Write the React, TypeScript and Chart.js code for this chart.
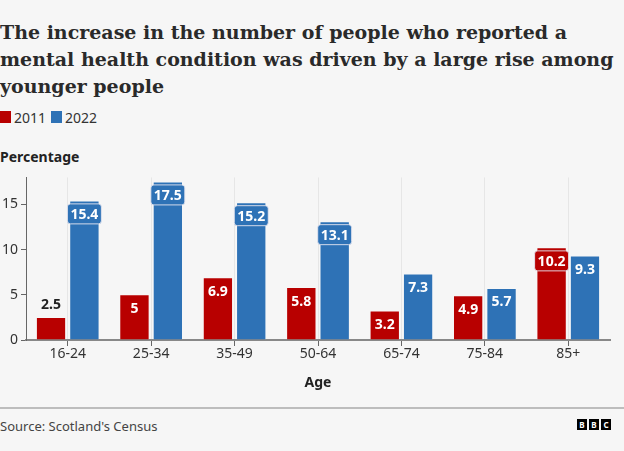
import React, { useEffect, useRef } from "react";
import { Chart, registerables } from "chart.js";

Chart.register(...registerables);

const categories = ["16-24", "25-34", "35-49", "50-64", "65-74", "75-84", "85+"];
const values2011 = [2.5, 5, 6.9, 5.8, 3.2, 4.9, 10.2];
const values2022 = [15.4, 17.5, 15.2, 13.1, 7.3, 5.7, 9.3];
const seriesNames = ["2011", "2022"];
const yTicks = [0, 5, 10, 15];

const RED = "#b80000";
const BLUE = "#2e72b6";
const FONT = "'Noto Sans', 'Open Sans', sans-serif";
const TITLE_FONT = "'DejaVu Serif', serif";

const labelPlugin = {
  id: "barLabels",
  afterDatasetsDraw(chart: any) {
    const ctx = chart.ctx;
    ctx.save();
    ctx.font = `bold 14px ${FONT}`;
    ctx.textAlign = "center";
    ctx.textBaseline = "middle";
    chart.data.datasets.forEach((ds: any, di: number) => {
      const meta = chart.getDatasetMeta(di);
      meta.data.forEach((bar: any, i: number) => {
        const v = ds.data[i];
        const text = String(v);
        const w = ctx.measureText(text).width;
        const barW = bar.width;
        const barH = bar.base - bar.y;
        if (barH < 24) {
          ctx.fillStyle = "#222";
          ctx.fillText(text, bar.x, bar.y - 12);
          return;
        }
        const cy = bar.y + 13;
        if (w > barW - 3) {
          const bw = w + 6;
          const bh = 20;
          ctx.beginPath();
          (ctx as any).roundRect(bar.x - bw / 2, cy - bh / 2, bw, bh, 3);
          ctx.fillStyle = ds.backgroundColor;
          ctx.fill();
          ctx.strokeStyle = "rgba(230,230,240,0.9)";
          ctx.lineWidth = 1;
          ctx.stroke();
        }
        ctx.fillStyle = "#ffffff";
        ctx.fillText(text, bar.x, cy + 1);
      });
    });
    ctx.restore();
  },
};

export default function App() {
  const ref = useRef<HTMLCanvasElement>(null);
  useEffect(() => {
    document.body.style.margin = "0";
    document.body.style.background = "#f6f6f6";
    const chart = new Chart(ref.current!, {
      type: "bar",
      data: {
        labels: categories,
        datasets: [
          {
            label: seriesNames[0],
            data: values2011,
            backgroundColor: RED,
            borderColor: "rgba(255,255,255,0.6)",
            borderWidth: 0.5,
            categoryPercentage: 0.8,
            barPercentage: 0.88,
          },
          {
            label: seriesNames[1],
            data: values2022,
            backgroundColor: BLUE,
            borderColor: "rgba(255,255,255,0.6)",
            borderWidth: 0.5,
            categoryPercentage: 0.8,
            barPercentage: 0.88,
          },
        ],
      },
      options: {
        animation: false,
        responsive: false,
        maintainAspectRatio: false,
        layout: { padding: { top: 3, right: 14, left: 0, bottom: 10 } },
        plugins: {
          legend: { display: false },
          tooltip: { enabled: false },
        },
        scales: {
          x: {
            grid: {
              display: true,
              drawOnChartArea: true,
              color: "#e6e6e6",
              tickColor: "#666",
              tickLength: 6,
              offset: false,
            },
            border: { color: "#888", width: 2 },
            ticks: {
              color: "#333",
              font: { family: FONT, size: 14 },
              padding: 0,
            },
            title: {
              display: true,
              text: "Age",
              color: "#222",
              font: { family: FONT, size: 14, weight: "bold" },
              padding: { top: 10, bottom: 0 },
            },
            afterFit: (s: any) => {
              s.height = 51;
            },
          },
          y: {
            min: 0,
            max: 18,
            afterBuildTicks: (s: any) => {
              s.ticks = yTicks.map((v) => ({ value: v }));
            },
            grid: {
              display: true,
              drawOnChartArea: false,
              color: "#666",
              tickLength: 5,
            },
            border: { color: "#666", width: 1 },
            ticks: {
              color: "#333",
              font: { family: FONT, size: 14 },
              padding: 3,
            },
            afterFit: (s: any) => {
              s.width = 26;
            },
          },
        },
      },
      plugins: [labelPlugin],
    });
    return () => chart.destroy();
  }, []);

  return (
    <div
      style={{
        position: "relative",
        width: 624,
        height: 451,
        background: "#f6f6f6",
        fontFamily: FONT,
        overflow: "hidden",
      }}
    >
      <div
        style={{
          position: "absolute",
          left: 0,
          top: 19,
          fontFamily: TITLE_FONT,
          fontSize: 19,
          fontWeight: 700,
          lineHeight: "27px",
          color: "#2a2a2a",
          whiteSpace: "nowrap",
        }}
      >
        The increase in the number of people who reported a
        <br />
        mental health condition was driven by a large rise among
        <br />
        younger people
      </div>
      <div
        style={{
          position: "absolute",
          left: 0,
          top: 107,
          fontSize: 14,
          color: "#333",
          display: "flex",
          alignItems: "center",
          height: 20,
        }}
      >
        <span style={{ width: 11, height: 12, background: RED, display: "inline-block", marginRight: 3 }} />
        <span style={{ marginRight: 5 }}>{seriesNames[0]}</span>
        <span style={{ width: 11, height: 12, background: BLUE, display: "inline-block", marginRight: 3 }} />
        <span>{seriesNames[1]}</span>
      </div>
      <div
        style={{
          position: "absolute",
          left: 0,
          top: 147,
          fontSize: 14,
          fontWeight: 700,
          color: "#222",
        }}
      >
        Percentage
      </div>
      <canvas
        ref={ref}
        width={624}
        height={235}
        style={{ position: "absolute", left: 0, top: 166, width: 624, height: 235 }}
      />
      <div
        style={{
          position: "absolute",
          left: 0,
          top: 407,
          width: 624,
          height: 2,
          background: "#bdbdbd",
        }}
      />
      <div
        style={{
          position: "absolute",
          left: 0,
          top: 417,
          fontSize: 13,
          color: "#444",
        }}
      >
        Source: Scotland's Census
      </div>
      <div style={{ position: "absolute", left: 577, top: 419, display: "flex", gap: 2 }}>
        {["B", "B", "C"].map((l, i) => (
          <span
            key={i}
            style={{
              width: 10,
              height: 11,
              background: "#000",
              color: "#fff",
              fontSize: 8,
              fontWeight: 700,
              display: "flex",
              alignItems: "center",
              justifyContent: "center",
              lineHeight: 1,
            }}
          >
            {l}
          </span>
        ))}
      </div>
    </div>
  );
}
